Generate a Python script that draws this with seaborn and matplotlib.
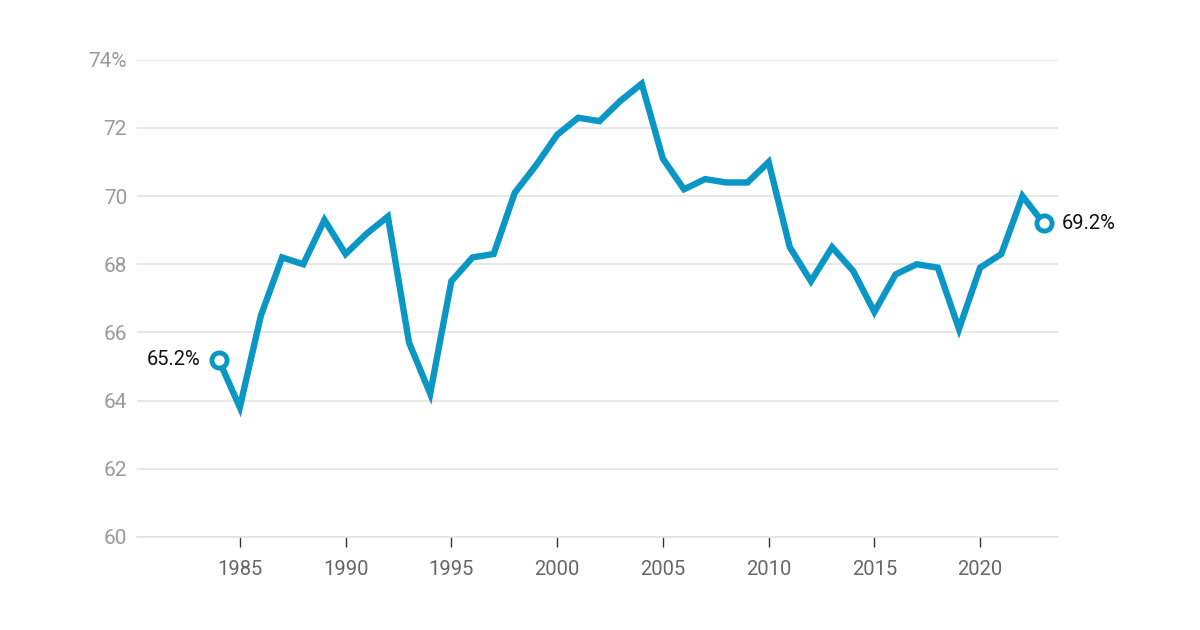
import numpy as np
import pandas as pd
import seaborn as sns
import matplotlib.pyplot as plt

sns.set_theme(style="white")
plt.rcParams['font.family'] = ['Roboto', 'DejaVu Sans']

years = list(range(1984, 2024))
rate = [65.2, 63.8, 66.5, 68.2, 68.0, 69.3, 68.3, 68.9, 69.4, 65.7,
        64.2, 67.5, 68.2, 68.3, 70.1, 70.9, 71.8, 72.3, 72.2, 72.8,
        73.3, 71.1, 70.2, 70.5, 70.4, 70.4, 71.0, 68.5, 67.5, 68.5,
        67.8, 66.6, 67.7, 68.0, 67.9, 66.1, 67.9, 68.3, 70.0, 69.2]
y_ticks = [60, 62, 64, 66, 68, 70, 72, 74]
y_labels = ["60", "62", "64", "66", "68", "70", "72", "74%"]
x_ticks = [1985, 1990, 1995, 2000, 2005, 2010, 2015, 2020]

df = pd.DataFrame({"year": years, "rate": rate})
blue = "#0a97c5"

fig, ax = plt.subplots(figsize=(12, 6.3), dpi=100)
fig.subplots_adjust(left=0.114, right=0.882, top=0.905, bottom=0.148)

sns.lineplot(data=df, x="year", y="rate", color=blue, linewidth=4.6, ax=ax,
             solid_joinstyle="miter", zorder=3)
ends = df.iloc[[0, -1]]
ax.scatter(ends["year"], ends["rate"], s=120, facecolor="white",
           edgecolor=blue, linewidth=3.5, zorder=4)

first, last = df.iloc[0], df.iloc[-1]
ax.text(first["year"] - 0.85, first["rate"], f"{first['rate']:.1f}%",
        ha="right", va="center", fontsize=14.5, color="#111111")
ax.text(last["year"] + 0.85, last["rate"], f"{last['rate']:.1f}%",
        ha="left", va="center", fontsize=14.5, color="#111111")

ax.set_xlim(1980.13, 2023.7)
ax.set_ylim(60, 74)
ax.set_yticks(y_ticks)
ax.set_yticklabels(y_labels)
ax.set_xticks(x_ticks)
ax.grid(axis="y", color="#e3e3e3", linewidth=1.2)
ax.set_axisbelow(True)
for side in ["top", "right", "left"]:
    ax.spines[side].set_visible(False)
ax.spines["bottom"].set_color("#e3e3e3")
ax.spines["bottom"].set_linewidth(1.2)
ax.tick_params(axis="y", length=0, pad=7, labelsize=15, labelcolor="#999999")
ax.tick_params(axis="x", length=7, width=1, color="#333333", pad=10,
               labelsize=14.5, labelcolor="#666666", bottom=True)
ax.set_xlabel("")
ax.set_ylabel("")

fig.savefig("out.png", dpi=100)
